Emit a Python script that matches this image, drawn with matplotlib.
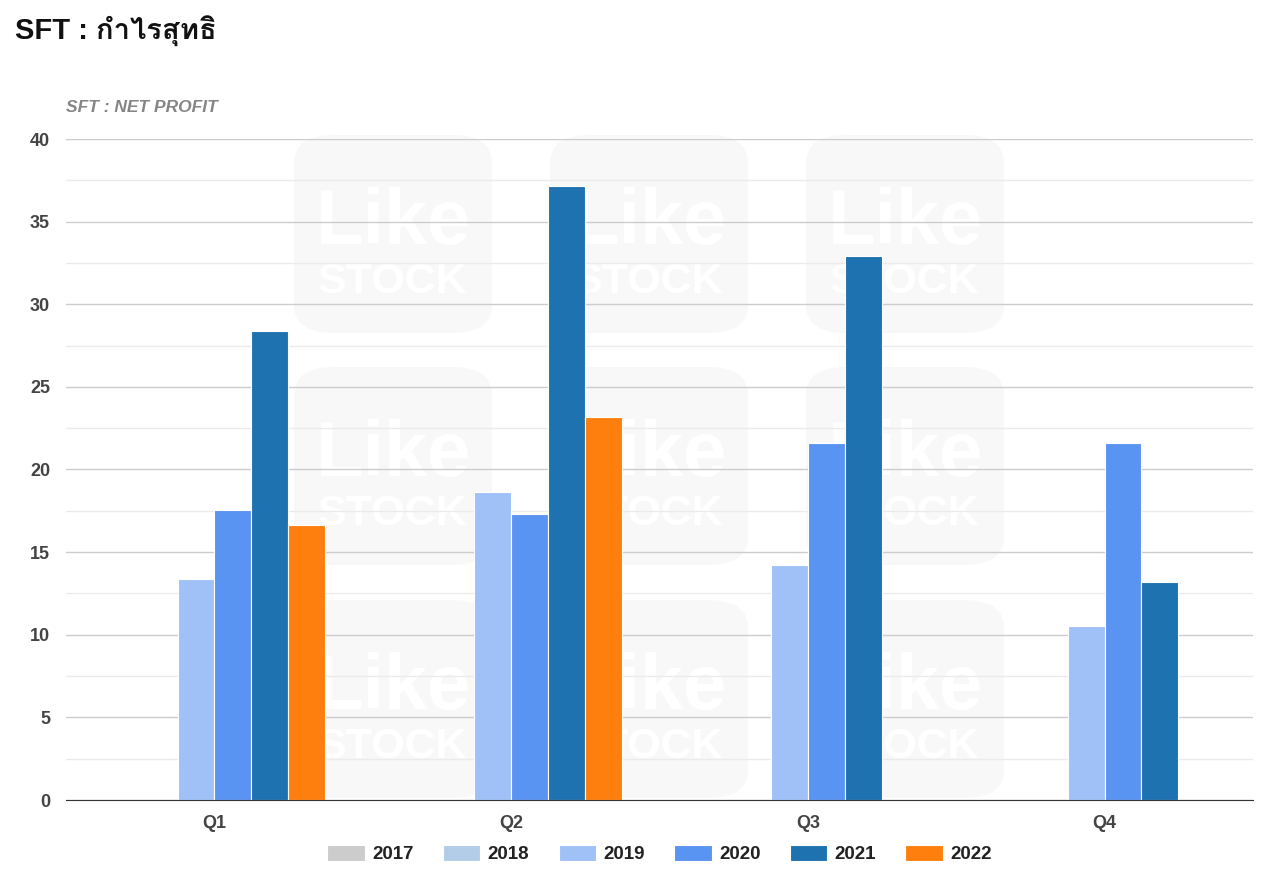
import matplotlib.pyplot as plt
import matplotlib.font_manager as fm
from matplotlib.ft2font import FT2Font
import numpy as np
from matplotlib.patches import FancyBboxPatch
from matplotlib.ticker import MultipleLocator

# Net profit per quarter, 0 = no bar
quarters = ["Q1", "Q2", "Q3", "Q4"]
years = ["2017", "2018", "2019", "2020", "2021", "2022"]
p2017 = [0, 0, 0, 0]
p2018 = [0, 0, 0, 0]
p2019 = [13.35, 18.65, 14.25, 10.5]
p2020 = [17.55, 17.3, 21.6, 21.6]
p2021 = [28.4, 37.15, 32.9, 13.2]
p2022 = [16.65, 23.2, 0, 0]
colors = ["#cccccc", "#b3cde8", "#a0c1f8", "#5a94f2", "#1f72b0", "#ff7f0e"]

series = [p2017, p2018, p2019, p2020, p2021, p2022]

# look for any installed family that has Thai glyphs
thai_fams = []
for f in fm.fontManager.ttflist:
	try:
		if 0x0E01 in FT2Font(f.fname).get_charmap() and f.name not in thai_fams:
			thai_fams.append(f.name)
	except Exception:
		pass

plt.rcParams['font.family'] = ["Liberation Sans", "DejaVu Sans"] + thai_fams

fig = plt.figure(figsize=(12.66, 8.72), dpi=100)
ax = fig.add_axes([66 / 1266, 1 - 800 / 872, (1253 - 66) / 1266, (800 - 139) / 872])
ax.set_facecolor("none")

# faint "Like STOCK" watermark boxes behind the plot
for bx in [294, 550, 806]:
	for by in [135, 367, 600]:
		box = FancyBboxPatch((bx / 1266, 1 - (by + 198) / 872), 198 / 1266, 198 / 872,
							 boxstyle="round,pad=0,rounding_size=0.032",
							 transform=fig.transFigure, facecolor="#f8f8f8",
							 edgecolor="none", zorder=-5)
		fig.patches.append(box)
		fig.text((bx + 99) / 1266, 1 - (by + 88) / 872, "Like", fontsize=56, fontweight="bold",
				 color="white", ha="center", va="center", zorder=-4)
		fig.text((bx + 99) / 1266, 1 - (by + 147) / 872, "STOCK", fontsize=31, fontweight="bold",
				 color="white", ha="center", va="center", zorder=-4)

x = np.arange(len(quarters))
width = 0.745 / len(years)
for i, (name, vals) in enumerate(zip(years, series)):
	offs = (i - (len(years) - 1) / 2) * width
	ax.bar(x + offs, vals, width, color=colors[i], edgecolor="white", linewidth=0.8,
		   label=name, zorder=3)

ax.set_xlim(-0.5, 3.5)
ax.set_ylim(0, 40)
ax.yaxis.set_major_locator(MultipleLocator(5))
ax.yaxis.set_minor_locator(MultipleLocator(2.5))
ax.grid(axis="y", which="major", color="#cccccc", linewidth=1, zorder=1)
ax.grid(axis="y", which="minor", color="#ebebeb", linewidth=1, zorder=1)
ax.set_axisbelow(True)
for s in ["top", "right", "left"]:
	ax.spines[s].set_visible(False)
ax.spines["bottom"].set_color("#333333")
ax.spines["bottom"].set_zorder(4)

ax.set_xticks(x)
ax.set_xticklabels(quarters)
ax.tick_params(axis="both", which="both", length=0, labelsize=13, labelcolor="#444444")
ax.tick_params(axis="y", pad=11.5)
ax.tick_params(axis="x", pad=11)
for lab in ax.get_xticklabels() + ax.get_yticklabels():
	lab.set_fontweight("bold")

leg = ax.legend(loc="upper center", bbox_to_anchor=(0.5, -0.042), ncol=6, frameon=False,
				prop={"size": 13.5, "weight": "bold"}, handlelength=2.0, handleheight=1.0,
				handletextpad=0.4, columnspacing=1.55)
for t in leg.get_texts():
	t.set_color("#222222")

fig.text(15 / 1266, 1 - 31 / 872, "SFT : กำไรสุทธิ", fontsize=21, fontweight="bold",
		 color="#111111", ha="left", va="center")
fig.text(66 / 1266, 1 - 107 / 872, "SFT : NET PROFIT", fontsize=12.5, fontweight="bold",
		 fontstyle="italic", color="#858585", ha="left", va="center")

fig.savefig("out.png", dpi=100)
